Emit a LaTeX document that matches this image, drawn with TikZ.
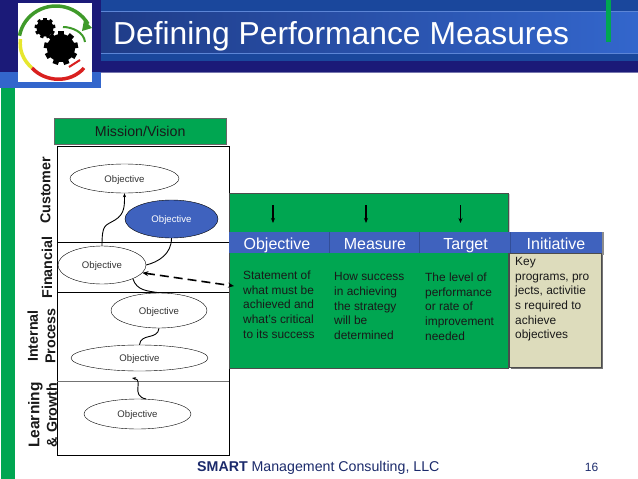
\documentclass[tikz,border=0pt]{standalone}
\usepackage{xcolor}
\usepackage{fontspec}
\setmainfont{Liberation Sans}
\usetikzlibrary{arrows.meta,shapes.geometric}
\definecolor{navyband}{HTML}{1B1A78}
\definecolor{midband}{HTML}{1A479C}
\definecolor{brightband}{HTML}{3366CC}
\definecolor{deepband}{HTML}{1F3C88}
\definecolor{boxgreen}{HTML}{00A651}
\definecolor{headblue}{HTML}{3F62BE}
\definecolor{keykhaki}{HTML}{DDDCBC}
\definecolor{footnavy}{HTML}{1B2A6B}
\definecolor{ringgreen}{HTML}{3F9A2A}
\definecolor{ringyellow}{HTML}{E6E62E}
\definecolor{ringred}{HTML}{D9201F}
\tikzset{
	objective/.style={draw,ellipse,inner sep=0pt,text height=7pt,text depth=0pt,font=\fontsize{9.6}{11}\selectfont,text=black!80},
	headcell/.style={anchor=base,text=white,font=\fontsize{16}{18}\selectfont},
	bodytext/.style={anchor=north west,inner sep=0pt,align=left,text=black!90,font=\fontsize{11.9}{14.7}\selectfont},
	sidelabel/.style={rotate=90,align=center,inner sep=0pt,font=\bfseries\fontsize{14.3}{17.5}\selectfont,text=black!90},
	flow/.style={draw,line width=.9pt},
	downarrow/.style={-{Stealth[length=5pt,width=4pt]},line width=1.1pt}
}
\newcommand{\gearshape}[3]{
	\fill (#1,#2) circle (#3);
	\foreach \a in {0,40,...,320}
		\fill[rotate around={\a:(#1,#2)}] (#1-#3*.2,#2) rectangle (#1+#3*.2,#2-#3*1.22);
}
\begin{document}
\begin{tikzpicture}[x=1pt,y=-1pt,every node/.append style={font=\fontsize{12}{14}\selectfont}]
	\useasboundingbox (0,0) rectangle (638,479);
	% title bar
	\fill[navyband] (0,0) rectangle (638,72);
	\fill[midband] (101,0) rectangle (638,61);
	\shade[left color=deepband,right color=brightband] (101,12) rectangle (638,53);
	\draw[brightband!80!white,line width=.5pt] (101,11.5) -- (638,11.5) (101,53.5) -- (638,53.5);
	\fill[brightband] (0,72) rectangle (101,88);
	\fill[navyband!60!white] (101,72) rectangle (638,72.7);
	\fill[boxgreen] (606,0) rectangle (611,42);
	\fill[boxgreen] (1,88) rectangle (15,479);
	\node[text=white,font=\fontsize{31.8}{36}\selectfont,anchor=base west,inner sep=0pt] (title) at (113,45) {Defining Performance Measures};
	% logo
	\fill[white] (18,3) rectangle (92,82);
	\draw[ringgreen,line width=3.5pt] (88,24) arc (-30:-170:37 and 36);
	\draw[ringyellow,line width=3.5pt] (20.5,39) .. controls (19,50) and (23,60) .. (32,68);
	\draw[ringred,line width=3.5pt] (32,68) .. controls (45,82) and (70,84) .. (84,68);
	\fill[ringgreen] (84,20) -- (92,28) -- (82,31) -- cycle;
	\draw[ringgreen,line width=2pt] (63,27) .. controls (72,27) and (84,32) .. (85,42);
	\draw[ringred,line width=2pt] (69,67) -- (80,60);
	\gearshape{45}{28}{8.5}
	\gearshape{61}{48}{14}
	% mission and scorecard
	\node[draw=black!60,fill=boxgreen,minimum width=172pt,minimum height=26pt,inner sep=0pt,anchor=north west,font=\fontsize{14.2}{16}\selectfont,text=black!90] (mission) at (54,118) {Mission/Vision};
	\draw[line width=.8pt] (57,146) rectangle (229,455);
	\draw[line width=.7pt] (57,242) -- (229,242) (57,292) -- (229,292);
	\draw[black!55,line width=.9pt] (57,381) -- (229,381);
	\node[objective,minimum width=109pt,minimum height=29pt] (objtop) at (124.5,178.5) {Objective};
	\node[objective,fill=headblue,text=white,minimum width=93pt,minimum height=38pt] (objblue) at (171.5,219) {Objective};
	\node[objective,minimum width=88pt,minimum height=38pt] (objfin) at (102,265) {Objective};
	\node[objective,minimum width=96pt,minimum height=35pt] (objproc) at (159,310.5) {Objective};
	\node[objective,minimum width=137pt,minimum height=26pt] (objint) at (139.5,358) {Objective};
	\node[objective,minimum width=107pt,minimum height=30pt] (objlearn) at (137.5,414) {Objective};
	\coordinate (finbend) at (115,220);
	\coordinate (learnend) at (132,378);
	\coordinate (dashend) at (234,286);
	\draw[-{Stealth[length=4pt,width=3pt]},line width=.9pt] (objfin.north) .. controls +(0,-22) and +(-10,6) .. (finbend) .. controls +(10,-6) and +(0,12) .. (objtop.south);
	\draw[flow] (objblue.south) .. controls +(0,16) and +(12,-3) .. (objfin.east);
	\draw[flow] (objfin.-24) .. controls +(4,12) and +(-12,-2) .. (objproc.north);
	\draw[flow] (objint.north) .. controls +(1,-12) and +(-1,12) .. (objproc.south);
	\draw[-{Stealth[length=4pt,width=3pt]},line width=.9pt] (objlearn.60) .. controls +(-16,-3) and +(12,2) .. (learnend);
	% side labels
	\node[sidelabel] (customer) at (45.5,190.5) {Customer};
	\node[sidelabel] (financial) at (47,267.5) {Financial};
	\node[sidelabel] (internal) at (41.5,336) {Internal\\Process};
	\node[sidelabel] (learning) at (42.5,415) {{\fontsize{15.5}{17.5}\selectfont Learning}\\\& Growth};
	% measures table
	\fill[black!45] (508,232) rectangle (604,255);
	\fill[black!55] (511,255) rectangle (603,369);
	\draw[black!70,fill=keykhaki] (509,253) rectangle (601,367);
	\fill[black!20] (508,194) rectangle (510,232);
	\draw[black!70,fill=boxgreen,line width=.8pt] (229,193) rectangle (508,368);
	\fill[headblue] (229,232) rectangle (509,253);
	\fill[headblue] (509,232) rectangle (602,253);
	\draw[headblue!80!black,line width=.4pt] (329,232) -- (329,253) (419,232) -- (419,253) (510,232) -- (510,253);
	\node[headcell] (objhead) at (277,249) {Objective};
	\node[headcell] (meashead) at (375,249) {Measure};
	\node[headcell] (targhead) at (465.5,249) {Target};
	\node[headcell] (inithead) at (556,249) {Initiative};
	\coordinate (objtip) at (273,223);
	\coordinate (meastip) at (366,223);
	\coordinate (targtip) at (460.5,223);
	\draw[downarrow] (273,205) -- (objtip);
	\draw[downarrow] (366,205) -- (meastip);
	\draw[downarrow] (460.5,205) -- (targtip);
	\draw[{Stealth[length=6pt,width=5pt]}-{Stealth[length=6pt,width=5pt]},dashed,dash pattern=on 9pt off 5pt,line width=1.6pt] (objfin.-11) -- (dashend);
	\node[bodytext] (objtext) at (243,270.5) {Statement of\\what must be\\achieved and\\what's critical\\to its success};
	\node[bodytext] (meastext) at (334,272.5) {How success\\in achieving\\the strategy\\will be\\determined};
	\node[bodytext] (targtext) at (425,272.5) {The level of\\performance\\or rate of\\improvement\\needed};
	\node[bodytext] (inittext) at (515,257) {Key\\programs, pro\\jects, activitie\\s required to\\achieve\\objectives};
	% footer
	\node[text=footnavy,anchor=west,inner sep=0pt,font=\fontsize{14.2}{16}\selectfont] (footer) at (197,468) {\textbf{SMART} Management Consulting, LLC};
	\node[text=footnavy,inner sep=0pt] (pagenum) at (591.5,467) {16};
\end{tikzpicture}
\end{document}
